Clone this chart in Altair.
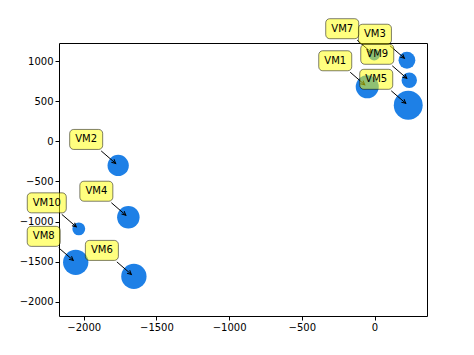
import altair as alt
import pandas as pd

labels = ["VM1", "VM2", "VM3", "VM4", "VM5", "VM6", "VM7", "VM8", "VM9", "VM10"]
x_vals = [-50, -1763, 223, -1693, 232, -1655, -2, -2055, 239, -2034]
y_vals = [681, -300, 1012, -946, 450, -1684, 1081, -1509, 762, -1091]
load = [169, 144, 90, 161, 266, 204, 42, 204, 76, 53]

x_ticks = [-2000, -1500, -1000, -500, 0]
y_ticks = [-2000, -1500, -1000, -500, 0, 500, 1000]

df = pd.DataFrame({"label": labels, "x": x_vals, "y": y_vals, "load": load})

FONT = "DejaVu Sans"
X = alt.X("x:Q", scale=alt.Scale(domain=[-2170, 361], nice=False, zero=False),
          axis=alt.Axis(values=x_ticks, title=None, format="d"))
Y = alt.Y("y:Q", scale=alt.Scale(domain=[-2178, 1227], nice=False, zero=False),
          axis=alt.Axis(values=y_ticks, title=None, format="d"))

base = alt.Chart(df)

points = base.mark_circle(color="#1e80e6", opacity=1).encode(
    x=X, y=Y,
    size=alt.Size("load:Q", scale=alt.Scale(domain=[0, 300], range=[0, 942]), legend=None),
)

LX, LY = -32, -26  # label offset in pixels
arrows = base.mark_rule(color="black", strokeWidth=1,
                        xOffset=-17, x2Offset=-2.5, yOffset=-14.5, y2Offset=-2).encode(
    x=X, y=Y, x2="x:Q", y2="y:Q")

heads = base.mark_point(shape="M -1 -0.5 L 0 0 L -1 0.5", filled=False, stroke="black",
                        strokeWidth=1, size=64, angle=41, opacity=1,
                        xOffset=-2.5, yOffset=-2).encode(x=X, y=Y)

def boxes(cond, half_w):
    return base.transform_filter(cond).mark_rect(
        fill="yellow", fillOpacity=0.5, stroke="black", strokeOpacity=0.5, strokeWidth=1,
        cornerRadius=4,
        xOffset=LX - half_w, x2Offset=LX + half_w, yOffset=LY - 10, y2Offset=LY + 10,
    ).encode(x=X, y=Y, x2="x:Q", y2="y:Q")

box3 = boxes("length(datum.label) <= 3", 16.5)
box4 = boxes("length(datum.label) > 3", 19.5)

texts = base.mark_text(font=FONT, fontSize=10, color="black", align="center",
                       baseline="middle", dx=LX, dy=LY).encode(x=X, y=Y, text="label:N")

chart = alt.layer(points, arrows, heads, box3, box4, texts).properties(
    width=368, height=273,
    autosize=alt.AutoSizeParams(type="none"),
    padding={"left": 59, "top": 43, "right": 47, "bottom": 39},
).configure_view(stroke="black", strokeWidth=1).configure_axis(
    grid=False, domain=False, tickColor="black", tickSize=4, labelPadding=2,
    labelFont=FONT, labelFontSize=10, labelColor="black",
)

chart.save("out.html", embed_options={"renderer": "svg", "actions": False})
